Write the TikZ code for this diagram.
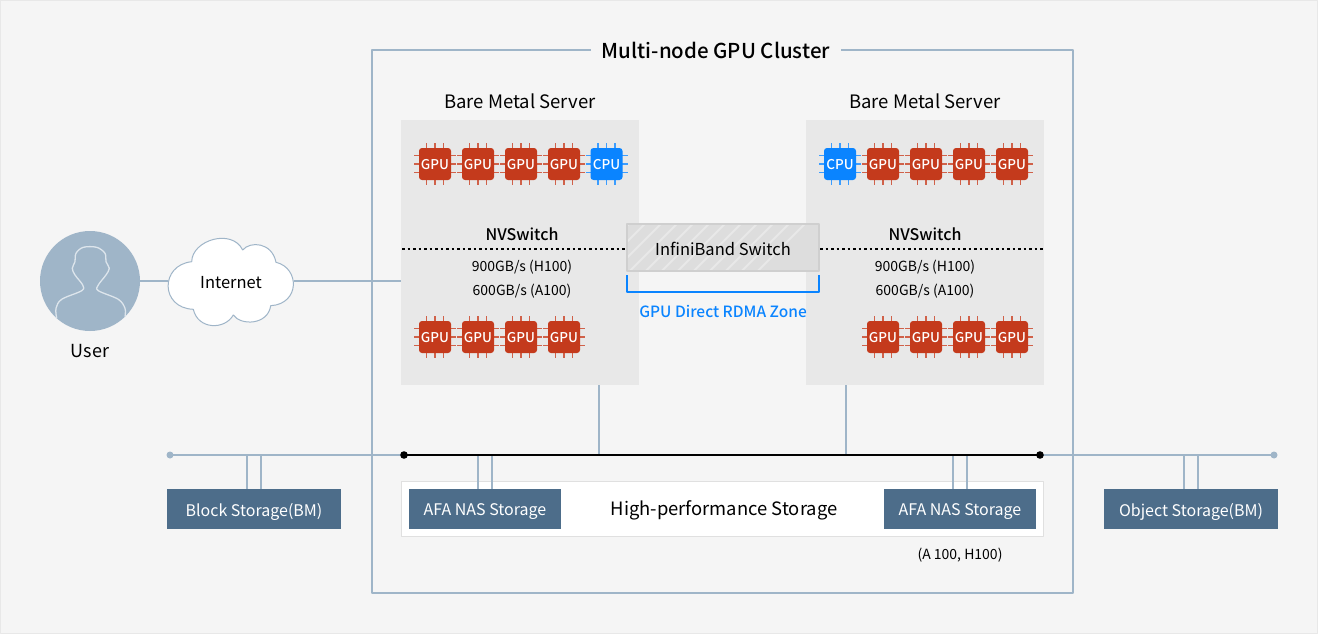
\documentclass[tikz,border=0pt]{standalone}
\usepackage{fontspec}
\setmainfont{Noto Sans CJK KR}
\newfontfamily\medfont{Noto Sans CJK KR Medium}
\definecolor{pagebg}{HTML}{F5F5F5}
\definecolor{pageedge}{HTML}{E8E8E8}
\definecolor{wire}{HTML}{9FB5C8}
\definecolor{srvgray}{HTML}{E8E8E8}
\definecolor{gpured}{HTML}{C43A1C}
\definecolor{cpublue}{HTML}{0A84FF}
\definecolor{stgblue}{HTML}{4D6D8A}
\tikzset{
	wireline/.style={draw=wire,line width=2pt},
	servernode/.style={fill=srvgray,minimum width=238pt,minimum height=265pt,inner sep=0pt},
	storagenode/.style={fill=stgblue,text=white,minimum height=40pt,inner sep=0pt,font=\fontsize{16}{18}\selectfont},
	chipnode/.style={fill=#1,rounded corners=3pt,minimum width=32pt,minimum height=32pt,inner sep=0pt,text=white,font=\fontsize{13.5}{16}\selectfont\medfont},
	lab/.style={font=\fontsize{#1}{#1}\selectfont,inner sep=0pt},
}
% text moved down inside its node
\newcommand{\lowered}[2]{\raisebox{-#1pt}[\height][\depth]{#2}}
% one chip: name, x, y, text, colour
\newcommand{\chip}[5]{
	\foreach \p in {-8.5,0,8.5}{
		\draw[#5!80!white,line width=1.5pt] (#2+\p,#3-21)--(#2+\p,#3+21);
		\draw[#5!80!white,line width=1.5pt] (#2-21,#3+\p)--(#2+21,#3+\p);
	}
	\node[chipnode=#5] (#1) at (#2,#3) {\lowered{1}{#4}};
}
\begin{document}
\begin{tikzpicture}[x=1pt,y=-1pt,line join=round]
	\useasboundingbox (0,0) rectangle (1318,634);
	\fill[pagebg,draw=pageedge] (0.5,0.5) rectangle (1317.5,633.5);
	% cluster frame
	\node[minimum width=701pt,minimum height=543pt,inner sep=0pt,wireline] (frame) at (722.5,321.5) {};
	\node[lab=20.5,fill=pagebg,inner xsep=11pt,inner ysep=4pt] (title) at (716,50) {\medfont Multi-node GPU Cluster};
	% servers
	\node[servernode] (srvL) at (520,252.5) {};
	\node[servernode] (srvR) at (925,252.5) {};
	\node[lab=18.5] (srvLt) at (520,101) {Bare Metal Server};
	\node[lab=18.5] (srvRt) at (925,101) {Bare Metal Server};
	\foreach \x [count=\i] in {435,478,521,564}{
		\chip{gl\i}{\x}{164}{GPU}{gpured}
		\chip{gb\i}{\x}{337}{GPU}{gpured}
	}
	\chip{cl}{606.5}{164}{CPU}{cpublue}
	\chip{cr}{840}{164}{CPU}{cpublue}
	\foreach \x [count=\i] in {883,926,969,1012}{
		\chip{hl\i}{\x}{164}{GPU}{gpured}
		\chip{hb\i}{\x}{337}{GPU}{gpured}
	}
	% switches
	\node[lab=16] (nvL) at (522,234) {\medfont NVSwitch};
	\node[lab=16] (nvR) at (925,234) {\medfont NVSwitch};
	\node[lab=14] (spdL) at (522,267) {900GB/s (H100)};
	\node[lab=14] (spdLb) at (522,291) {600GB/s (A100)};
	\node[lab=14] (spdR) at (925,267) {900GB/s (H100)};
	\node[lab=14] (spdRb) at (925,291) {600GB/s (A100)};
	\node[draw=black!19,fill=black!13.5,line width=2pt,minimum width=192pt,minimum height=47pt,inner sep=0pt,font=\fontsize{16.5}{18}\selectfont,
		path picture={\foreach \d in {-120,-104,...,120}
			\draw[srvgray,line width=2pt] (\d-30,30)--(\d+30,-30);}] (ib) at (723,247) {\lowered{2}{InfiniBand Switch}};
	\coordinate (dotL) at (402,249);
	\coordinate (dotR) at (1044,249);
	\draw[black,line width=2pt,dash pattern=on 2.5pt off 3pt] (dotL) -- (dotL -| ib.west);
	\draw[black,line width=2pt,dash pattern=on 2.5pt off 3pt] (dotR -| ib.east) -- (dotR);
	\coordinate (brL) at (627,275);
	\coordinate (brR) at (818.5,275);
	\draw[cpublue,line width=2pt] (brL) -- ++(0,17) -| (brR);
	\node[lab=15.5,text=cpublue] (rdma) at (723,311) {\medfont GPU Direct RDMA Zone};
	% user and internet
	\node[circle,fill=wire,minimum size=100pt,inner sep=0pt] (user) at (90,281) {};
	\draw[wire!35!white,line width=1.3pt] plot[smooth,tension=0.55] coordinates {(56.7,318.3)(56,308.3)(61.7,299.3)(81.7,290.7)(82.7,285)(75,275)(72.3,268.3)(75,261.7)(76,253.3)(83.3,247.3)(96.7,247.3)(105,253.3)(106,261.7)(109.3,268.3)(106,275)(98.3,285)(98.3,290.7)(118.3,299.3)(125,308.3)(125,316.7)};
	\node[lab=18] (usert) at (90,351) {User};
	\coordinate (inetW) at (168,281);
	\coordinate (inetE) at (294,281);
	\draw[wireline] (user.east |- inetW) -- (inetW);
	\draw[wireline] (inetE) -- (inetE -| srvL.west);
	\draw[fill=white,draw=wire,line width=1pt] (191.7,261.7) .. controls (192,240) and (232,228) .. (242.7,250)
		.. controls (250,241) and (272,242) .. (276,262.3)
		.. controls (300,268) and (300,304) .. (270.7,305.7)
		.. controls (268,325) and (241,326) .. (233.3,315)
		.. controls (225,330) and (198,330) .. (193.3,309.3)
		.. controls (160,308) and (160,265) .. (191.7,261.7) -- cycle;
	\node[lab=16.5] (inet) at (231,283) {Internet};
	% storage
	\node[fill=white,draw=black!12,line width=1pt,minimum width=642pt,minimum height=55pt,inner sep=0pt] (hps) at (722.5,509) {};
	\node[lab=18.4] (hpst) at (724,510) {High-performance Storage};
	\node[storagenode,minimum width=174pt] (blk) at (254,509) {\lowered{3}{Block Storage(BM)}};
	\node[storagenode,minimum width=152pt] (afaL) at (485,509) {\lowered{3}{AFA NAS Storage}};
	\node[storagenode,minimum width=152pt] (afaR) at (960,509) {\lowered{3}{AFA NAS Storage}};
	\node[storagenode,minimum width=174pt] (obj) at (1191,509) {\lowered{3}{Object Storage(BM)}};
	\node[lab=14] (afat) at (960,555) {(A 100, H100)};
	% buses
	\coordinate (busA) at (170,455);
	\coordinate (busB) at (1274,455);
	\coordinate (busL) at (404,455);
	\coordinate (busR) at (1040,455);
	\draw[wireline] (busA) -- (busB);
	\fill[wire] (busA) circle (3.5) (busB) circle (3.5);
	\foreach \n in {blk,afaL,afaR,obj}{
		\draw[wireline] ([xshift=-7pt]\n.north) -- ([xshift=-7pt]\n.north |- busA);
		\draw[wireline] ([xshift=7pt]\n.north) -- ([xshift=7pt]\n.north |- busA);
	}
	\draw[wireline] (599,0 |- srvL.south) -- (599,455);
	\draw[wireline] (846,0 |- srvR.south) -- (846,455);
	\draw[black,line width=2.2pt] (busL) -- (busR);
	\fill[black] (busL) circle (3.8) (busR) circle (3.8);
\end{tikzpicture}
\end{document}
